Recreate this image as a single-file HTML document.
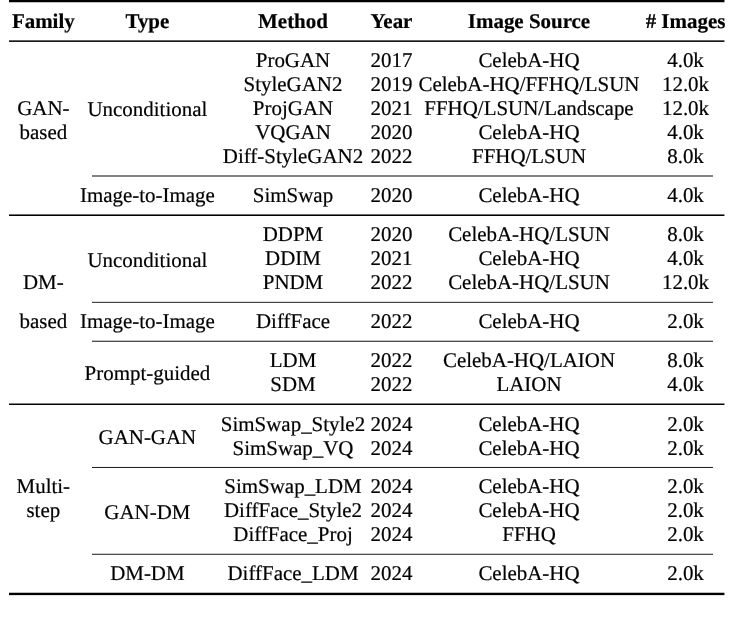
<!DOCTYPE html>
<html><head><meta charset="utf-8"><title>Table</title>
<style>
html,body{margin:0;padding:0;background:#fff;}
body{width:734px;height:624px;position:relative;overflow:hidden;font-family:"Liberation Serif","Times New Roman",serif;font-size:20.95px;color:#000;}
.c{position:absolute;-webkit-font-smoothing:antialiased;text-rendering:geometricPrecision;-webkit-text-stroke:0.2px #000;line-height:24px;height:24px;text-align:center;white-space:nowrap;}
.b{font-weight:bold;}
.r{position:absolute;}
#w{position:absolute;left:0;top:0;width:734px;height:624px;will-change:transform;}
</style></head><body><div id="w">
<div class="c b" style="left:-16.70px;top:8.93px;width:120px">Family</div>
<div class="c b" style="left:87.40px;top:8.93px;width:120px">Type</div>
<div class="c b" style="left:193.00px;top:8.93px;width:200px">Method</div>
<div class="c b" style="left:341.50px;top:8.93px;width:100px">Year</div>
<div class="c b" style="left:409.00px;top:8.93px;width:240px">Image Source</div>
<div class="c b" style="left:625.50px;top:8.93px;width:120px"># Images</div>
<div class="c" style="left:193.00px;top:47.93px;width:200px">ProGAN</div>
<div class="c" style="left:341.50px;top:47.93px;width:100px">2017</div>
<div class="c" style="left:399.00px;top:47.93px;width:260px">CelebA-HQ</div>
<div class="c" style="left:625.50px;top:47.93px;width:120px">4.0k</div>
<div class="c" style="left:193.00px;top:71.93px;width:200px">StyleGAN2</div>
<div class="c" style="left:341.50px;top:71.93px;width:100px">2019</div>
<div class="c" style="left:399.00px;top:71.93px;width:260px">CelebA-HQ/FFHQ/LSUN</div>
<div class="c" style="left:625.50px;top:71.93px;width:120px">12.0k</div>
<div class="c" style="left:193.00px;top:95.93px;width:200px">ProjGAN</div>
<div class="c" style="left:341.50px;top:95.93px;width:100px">2021</div>
<div class="c" style="left:399.00px;top:95.93px;width:260px">FFHQ/LSUN/Landscape</div>
<div class="c" style="left:625.50px;top:95.93px;width:120px">12.0k</div>
<div class="c" style="left:193.00px;top:119.93px;width:200px">VQGAN</div>
<div class="c" style="left:341.50px;top:119.93px;width:100px">2020</div>
<div class="c" style="left:399.00px;top:119.93px;width:260px">CelebA-HQ</div>
<div class="c" style="left:625.50px;top:119.93px;width:120px">4.0k</div>
<div class="c" style="left:193.00px;top:144.23px;width:200px">Diff-StyleGAN2</div>
<div class="c" style="left:341.50px;top:144.23px;width:100px">2022</div>
<div class="c" style="left:399.00px;top:144.23px;width:260px">FFHQ/LSUN</div>
<div class="c" style="left:625.50px;top:144.23px;width:120px">8.0k</div>
<div class="c" style="left:193.00px;top:182.93px;width:200px">SimSwap</div>
<div class="c" style="left:341.50px;top:182.93px;width:100px">2020</div>
<div class="c" style="left:399.00px;top:182.93px;width:260px">CelebA-HQ</div>
<div class="c" style="left:625.50px;top:182.93px;width:120px">4.0k</div>
<div class="c" style="left:193.00px;top:221.53px;width:200px">DDPM</div>
<div class="c" style="left:341.50px;top:221.53px;width:100px">2020</div>
<div class="c" style="left:399.00px;top:221.53px;width:260px">CelebA-HQ/LSUN</div>
<div class="c" style="left:625.50px;top:221.53px;width:120px">8.0k</div>
<div class="c" style="left:193.00px;top:245.63px;width:200px">DDIM</div>
<div class="c" style="left:341.50px;top:245.63px;width:100px">2021</div>
<div class="c" style="left:399.00px;top:245.63px;width:260px">CelebA-HQ</div>
<div class="c" style="left:625.50px;top:245.63px;width:120px">4.0k</div>
<div class="c" style="left:193.00px;top:269.63px;width:200px">PNDM</div>
<div class="c" style="left:341.50px;top:269.63px;width:100px">2022</div>
<div class="c" style="left:399.00px;top:269.63px;width:260px">CelebA-HQ/LSUN</div>
<div class="c" style="left:625.50px;top:269.63px;width:120px">12.0k</div>
<div class="c" style="left:193.00px;top:309.13px;width:200px">DiffFace</div>
<div class="c" style="left:341.50px;top:309.13px;width:100px">2022</div>
<div class="c" style="left:399.00px;top:309.13px;width:260px">CelebA-HQ</div>
<div class="c" style="left:625.50px;top:309.13px;width:120px">2.0k</div>
<div class="c" style="left:193.00px;top:348.33px;width:200px">LDM</div>
<div class="c" style="left:341.50px;top:348.33px;width:100px">2022</div>
<div class="c" style="left:399.00px;top:348.33px;width:260px">CelebA-HQ/LAION</div>
<div class="c" style="left:625.50px;top:348.33px;width:120px">8.0k</div>
<div class="c" style="left:193.00px;top:372.33px;width:200px">SDM</div>
<div class="c" style="left:341.50px;top:372.33px;width:100px">2022</div>
<div class="c" style="left:399.00px;top:372.33px;width:260px">LAION</div>
<div class="c" style="left:625.50px;top:372.33px;width:120px">4.0k</div>
<div class="c" style="left:193.00px;top:411.63px;width:200px">SimSwap_Style2</div>
<div class="c" style="left:341.50px;top:411.63px;width:100px">2024</div>
<div class="c" style="left:399.00px;top:411.63px;width:260px">CelebA-HQ</div>
<div class="c" style="left:625.50px;top:411.63px;width:120px">2.0k</div>
<div class="c" style="left:193.00px;top:435.73px;width:200px">SimSwap_VQ</div>
<div class="c" style="left:341.50px;top:435.73px;width:100px">2024</div>
<div class="c" style="left:399.00px;top:435.73px;width:260px">CelebA-HQ</div>
<div class="c" style="left:625.50px;top:435.73px;width:120px">2.0k</div>
<div class="c" style="left:193.00px;top:473.83px;width:200px">SimSwap_LDM</div>
<div class="c" style="left:341.50px;top:473.83px;width:100px">2024</div>
<div class="c" style="left:399.00px;top:473.83px;width:260px">CelebA-HQ</div>
<div class="c" style="left:625.50px;top:473.83px;width:120px">2.0k</div>
<div class="c" style="left:193.00px;top:497.83px;width:200px">DiffFace_Style2</div>
<div class="c" style="left:341.50px;top:497.83px;width:100px">2024</div>
<div class="c" style="left:399.00px;top:497.83px;width:260px">CelebA-HQ</div>
<div class="c" style="left:625.50px;top:497.83px;width:120px">2.0k</div>
<div class="c" style="left:193.00px;top:522.13px;width:200px">DiffFace_Proj</div>
<div class="c" style="left:341.50px;top:522.13px;width:100px">2024</div>
<div class="c" style="left:399.00px;top:522.13px;width:260px">FFHQ</div>
<div class="c" style="left:625.50px;top:522.13px;width:120px">2.0k</div>
<div class="c" style="left:193.00px;top:560.93px;width:200px">DiffFace_LDM</div>
<div class="c" style="left:341.50px;top:560.93px;width:100px">2024</div>
<div class="c" style="left:399.00px;top:560.93px;width:260px">CelebA-HQ</div>
<div class="c" style="left:625.50px;top:560.93px;width:120px">2.0k</div>
<div class="c" style="left:47.40px;top:96.93px;width:200px">Unconditional</div>
<div class="c" style="left:47.40px;top:182.93px;width:200px">Image-to-Image</div>
<div class="c" style="left:47.40px;top:247.73px;width:200px">Unconditional</div>
<div class="c" style="left:47.40px;top:309.13px;width:200px">Image-to-Image</div>
<div class="c" style="left:47.40px;top:361.23px;width:200px">Prompt-guided</div>
<div class="c" style="left:47.40px;top:424.83px;width:200px">GAN-GAN</div>
<div class="c" style="left:47.40px;top:499.93px;width:200px">GAN-DM</div>
<div class="c" style="left:47.40px;top:560.93px;width:200px">DM-DM</div>
<div class="c" style="left:-16.70px;top:95.93px;width:120px">GAN-</div>
<div class="c" style="left:-16.70px;top:119.93px;width:120px">based</div>
<div class="c" style="left:-16.70px;top:269.63px;width:120px">DM-</div>
<div class="c" style="left:-16.70px;top:309.13px;width:120px">based</div>
<div class="c" style="left:-16.70px;top:473.83px;width:120px">Multi-</div>
<div class="c" style="left:-16.70px;top:497.83px;width:120px">step</div>
<div class="r" style="left:9px;top:0px;width:715px;height:1px;background:rgb(0,0,0)"></div>
<div class="r" style="left:724px;top:0px;width:1px;height:1px;background:rgb(140,140,140)"></div>
<div class="r" style="left:9px;top:1px;width:715px;height:1px;background:rgb(0,0,0)"></div>
<div class="r" style="left:724px;top:1px;width:1px;height:1px;background:rgb(140,140,140)"></div>
<div class="r" style="left:9px;top:2px;width:715px;height:1px;background:rgb(190,190,190)"></div>
<div class="r" style="left:724px;top:2px;width:1px;height:1px;background:rgb(226,226,226)"></div>
<div class="r" style="left:9px;top:40px;width:715px;height:1px;background:rgb(95,95,95)"></div>
<div class="r" style="left:724px;top:40px;width:1px;height:1px;background:rgb(183,183,183)"></div>
<div class="r" style="left:9px;top:41px;width:715px;height:1px;background:rgb(28,28,28)"></div>
<div class="r" style="left:724px;top:41px;width:1px;height:1px;background:rgb(153,153,153)"></div>
<div class="r" style="left:92px;top:175px;width:621px;height:1px;background:rgb(132,132,132)"></div>
<div class="r" style="left:92px;top:176px;width:621px;height:1px;background:rgb(132,132,132)"></div>
<div class="r" style="left:9px;top:214px;width:715px;height:1px;background:rgb(110,110,110)"></div>
<div class="r" style="left:724px;top:214px;width:1px;height:1px;background:rgb(190,190,190)"></div>
<div class="r" style="left:9px;top:215px;width:715px;height:1px;background:rgb(0,0,0)"></div>
<div class="r" style="left:724px;top:215px;width:1px;height:1px;background:rgb(140,140,140)"></div>
<div class="r" style="left:92px;top:301px;width:621px;height:1px;background:rgb(218,218,218)"></div>
<div class="r" style="left:92px;top:302px;width:621px;height:1px;background:rgb(70,70,70)"></div>
<div class="r" style="left:92px;top:340px;width:621px;height:1px;background:rgb(190,190,190)"></div>
<div class="r" style="left:92px;top:341px;width:621px;height:1px;background:rgb(80,80,80)"></div>
<div class="r" style="left:9px;top:403px;width:715px;height:1px;background:rgb(130,130,130)"></div>
<div class="r" style="left:724px;top:403px;width:1px;height:1px;background:rgb(199,199,199)"></div>
<div class="r" style="left:9px;top:404px;width:715px;height:1px;background:rgb(0,0,0)"></div>
<div class="r" style="left:724px;top:404px;width:1px;height:1px;background:rgb(140,140,140)"></div>
<div class="r" style="left:92px;top:466px;width:621px;height:1px;background:rgb(245,245,245)"></div>
<div class="r" style="left:92px;top:467px;width:621px;height:1px;background:rgb(36,36,36)"></div>
<div class="r" style="left:92px;top:553px;width:621px;height:1px;background:rgb(200,200,200)"></div>
<div class="r" style="left:92px;top:554px;width:621px;height:1px;background:rgb(80,80,80)"></div>
<div class="r" style="left:9px;top:592px;width:715px;height:1px;background:rgb(190,190,190)"></div>
<div class="r" style="left:724px;top:592px;width:1px;height:1px;background:rgb(226,226,226)"></div>
<div class="r" style="left:9px;top:593px;width:715px;height:1px;background:rgb(0,0,0)"></div>
<div class="r" style="left:724px;top:593px;width:1px;height:1px;background:rgb(140,140,140)"></div>
<div class="r" style="left:9px;top:594px;width:715px;height:1px;background:rgb(0,0,0)"></div>
<div class="r" style="left:724px;top:594px;width:1px;height:1px;background:rgb(140,140,140)"></div>
<div class="r" style="left:9px;top:595px;width:715px;height:1px;background:rgb(225,225,225)"></div>
<div class="r" style="left:724px;top:595px;width:1px;height:1px;background:rgb(242,242,242)"></div>
</div></body></html>
